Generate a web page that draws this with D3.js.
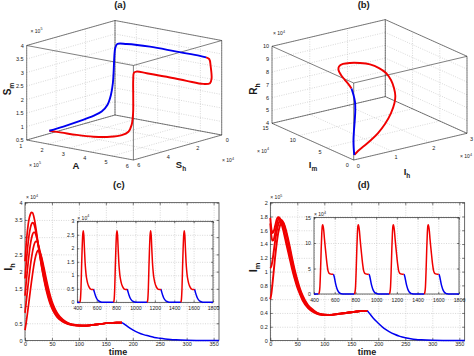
<!DOCTYPE html>
<html><head><meta charset="utf-8">
<script src="https://cdn.jsdelivr.net/npm/d3@7/dist/d3.min.js"></script>
<style>
html,body{margin:0;padding:0;background:#fff;}
svg{display:block;}
text{font-family:"Liberation Sans",Arial,Helvetica,sans-serif;fill:#1a1a1a;}
</style></head><body>
<svg id="chart" width="474" height="356" viewBox="0 0 474 356"></svg>
<script>
// ================= DATA =================
// Panel (a): points [A (x10^5), S_h (x10^4), S_m (x10^5)]
const aTicksA = [1,2,3,4,5,6];
const aTicksSh = [0,2,4,6];
const aTicksSm = [0.5,1,1.5,2,2.5,3,3.5,4];
const aBlue = [[1.58,5.30,0.82],[1.94,4.87,0.96],[2.37,4.36,1.16],[2.71,3.95,1.33],[2.92,3.69,1.48],
  [3.07,3.52,1.72],[3.16,3.41,2.09],[3.21,3.35,2.52],[3.23,3.32,3.01],[3.25,3.31,3.50],[3.27,3.28,3.81],
  [3.32,3.21,3.97],[3.56,2.92,3.96],[4.16,2.21,3.84],[4.85,1.39,3.63],[5.44,0.67,3.45],[5.60,0.48,3.39]];
const aRed = [[5.60,0.48,3.39],[5.68,0.38,3.32],[5.72,0.34,3.04],[5.74,0.31,2.61],[5.70,0.36,2.43],
  [5.53,0.57,2.41],[5.10,1.08,2.54],[4.59,1.69,2.71],[4.08,2.31,2.86],[3.82,2.62,2.93],[3.75,2.70,2.89],
  [3.73,2.72,2.62],[3.73,2.72,2.00],[3.73,2.73,1.39],[3.69,2.77,0.96],[3.61,2.87,0.71],[3.44,3.08,0.59],
  [3.14,3.44,0.54],[2.71,3.95,0.56],[2.28,4.46,0.64],[1.90,4.92,0.74],[1.58,5.30,0.82]];

// Panel (b): points [I_h (x10^4), I_m (x10^4), R_h (x10^4)]
const bTicksIm = [0,5,10,15];
const bTicksIh = [0,1,2,3];
const bTicksRh = [4,5,6,7,8,9,10];
const bRed = [[0.02,0.03,4.37],[0.20,0.60,4.45],[0.50,1.58,4.44],[0.90,3.06,4.35],[1.30,4.55,4.33],
  [1.80,6.74,4.27],[2.30,9.10,4.33],[2.60,10.54,4.63],[2.70,11.08,5.00],[2.65,10.98,5.68],[2.50,10.49,6.50],
  [2.20,9.32,7.48],[2.00,9.22,8.02],[1.80,9.49,8.39],[1.60,9.94,8.55],[1.40,10.39,8.61],[1.20,10.28,8.69],
  [1.00,9.63,8.76],[0.80,8.34,8.87],[0.60,6.49,8.97],[0.40,4.37,9.12],[0.25,2.60,9.18],[0.12,1.24,9.25]];
const bBlue = [[0.12,1.24,9.25],[0.08,0.59,8.90],[0.05,0.11,8.47],[0.045,0.02,7.86],[0.04,0.08,7.07],
  [0.03,0.15,6.29],[0.02,0.18,5.51],[0.02,0.14,4.89],[0.02,0.03,4.37]];

// Panels (c),(d): time series
const timeTicks = [0,50,100,150,200,250,300,350];
const timeRed = [0,2,4,6,8,10,12,14,16,18,20,22,24,26,28,30,35,40,45,50,55,60,70,80,90,100,110,120,130,140,150,160,170,180];
const timeBlue = [180,185,190,200,210,220,230,240,250,260,270,280,300,320,340,360];

const cTicksY = [0,0.5,1,1.5,2,2.5,3,3.5,4];
const cRed1 = [2.30,2.75,3.10,3.38,3.56,3.67,3.72,3.71,3.62,3.47,3.28,3.07,2.85,2.63,2.42,2.22,1.78,1.42,1.14,0.93,0.78,0.67,0.54,0.47,0.44,0.43,0.43,0.44,0.46,0.48,0.50,0.51,0.52,0.52];
const cRed2 = [1.80,2.20,2.56,2.86,3.10,3.27,3.38,3.42,3.40,3.31,3.17,3.00,2.81,2.61,2.42,2.24,1.83,1.48,1.20,0.98,0.82,0.70,0.56,0.48,0.45,0.43,0.43,0.44,0.46,0.48,0.50,0.51,0.52,0.52];
const cRed3 = [1.30,1.65,1.98,2.29,2.56,2.79,2.96,3.08,3.14,3.14,3.08,2.97,2.83,2.66,2.49,2.32,1.91,1.55,1.26,1.03,0.86,0.73,0.57,0.49,0.45,0.43,0.43,0.44,0.46,0.48,0.50,0.51,0.52,0.52];
const cRed4 = [0.80,1.08,1.37,1.65,1.92,2.17,2.39,2.58,2.73,2.83,2.88,2.87,2.81,2.71,2.58,2.44,2.03,1.64,1.33,1.08,0.90,0.76,0.59,0.50,0.46,0.44,0.43,0.44,0.46,0.48,0.50,0.51,0.52,0.52];
const cRed5 = [0.30,0.50,0.72,0.96,1.21,1.46,1.70,1.93,2.14,2.32,2.46,2.56,2.62,2.61,2.55,2.46,2.13,1.75,1.41,1.14,0.94,0.79,0.61,0.51,0.46,0.44,0.43,0.44,0.46,0.48,0.50,0.51,0.52,0.52];
const cBlue = [0.52,0.47,0.41,0.31,0.23,0.17,0.13,0.09,0.065,0.045,0.03,0.02,0.008,0.003,0.001,0];

const dTicksY = [0,0.2,0.4,0.6,0.8,1,1.2,1.4,1.6,1.8,2];
const dRed1 = [1.78,1.62,1.56,1.58,1.63,1.70,1.76,1.79,1.79,1.76,1.71,1.66,1.60,1.53,1.46,1.39,1.22,1.05,0.90,0.77,0.67,0.58,0.47,0.41,0.38,0.37,0.37,0.38,0.39,0.40,0.41,0.42,0.43,0.43];
const dRed2 = [1.70,1.52,1.45,1.46,1.52,1.60,1.68,1.74,1.77,1.77,1.74,1.70,1.64,1.58,1.51,1.44,1.27,1.09,0.93,0.80,0.69,0.60,0.48,0.42,0.38,0.37,0.37,0.38,0.39,0.40,0.41,0.42,0.43,0.43];
const dRed3 = [1.05,1.08,1.16,1.27,1.39,1.50,1.59,1.66,1.71,1.74,1.75,1.74,1.71,1.66,1.60,1.54,1.36,1.17,1.00,0.85,0.73,0.63,0.50,0.43,0.39,0.37,0.37,0.38,0.39,0.40,0.41,0.42,0.43,0.43];
const dRed4 = [0.60,0.68,0.82,0.98,1.14,1.29,1.42,1.53,1.61,1.67,1.71,1.72,1.71,1.68,1.63,1.57,1.40,1.21,1.03,0.88,0.75,0.65,0.51,0.44,0.39,0.38,0.37,0.38,0.39,0.40,0.41,0.42,0.43,0.43];
const dBlue = [0.43,0.38,0.33,0.25,0.18,0.13,0.09,0.06,0.04,0.025,0.015,0.01,0.004,0.001,0,0];

// Insets: long-run periodic behaviour
const insetTicksX = [400,600,800,1000,1200,1400,1600,1800];
const cInsetTicksY = [0,0.5,1,1.5,2,2.5,3];
const cInsetRedTimes = [
  [426,432,438,444,450,456,462,468,474,480,486,492,498,507,517,527,542,557,567],
  [774,780,786,792,798,804,810,816,822,828,834,840,846,855,865,875,890,905,915],
  [1121,1127,1133,1139,1145,1151,1157,1163,1169,1175,1181,1187,1193,1202,1212,1222,1237,1252,1262],
  [1468,1474,1480,1486,1492,1498,1504,1510,1516,1522,1528,1534,1540,1549,1559,1569,1584,1599,1609]];
const cInsetRedVals = [0,0.1,0.5,1.3,2.0,2.5,2.65,2.45,1.95,1.5,1.2,0.98,0.85,0.7,0.6,0.53,0.48,0.47,0.49];
const cInsetBlueTimes = [
  [400,426],
  [567,572,580,588,597,607,617,630,642,657,672,774],
  [915,920,928,936,945,955,965,978,990,1005,1020,1121],
  [1262,1267,1275,1283,1292,1302,1312,1325,1337,1352,1367,1468],
  [1609,1614,1622,1630,1639,1649,1659,1672,1684,1699,1714,1800]];
const cInsetBlueVals = [[0,0],[0.49,0.43,0.33,0.24,0.16,0.10,0.06,0.03,0.012,0.004,0,0]];

const dInsetTicksY = [0,5,10,15];
const dInsetRedTimes = [
  [444,451,457,463,469,475,480,484,489,495,501,508,515,521,528,534,542,550,564,585],
  [788,795,801,807,813,819,824,828,833,839,845,852,859,865,872,878,886,894,908,929],
  [1126,1133,1139,1145,1151,1157,1162,1166,1171,1177,1183,1190,1197,1203,1210,1216,1224,1232,1246,1267],
  [1463,1470,1476,1482,1488,1494,1499,1503,1508,1514,1520,1527,1534,1540,1547,1553,1561,1569,1583,1604]];
const dInsetRedVals = [0,0.3,1.4,4.5,8.5,11.8,13.3,13.6,13.2,12.3,10.8,9.3,7.9,6.7,5.5,4.7,4.2,4.0,3.9,3.85];
const dInsetBlueTimes = [
  [400,444],
  [585,590,595,601,608,616,624,634,643,654,666,679,693,788],
  [929,934,939,945,952,960,968,978,987,998,1010,1023,1037,1126],
  [1267,1272,1277,1283,1290,1298,1306,1316,1325,1336,1348,1361,1375,1463],
  [1604,1609,1614,1620,1627,1635,1643,1653,1662,1673,1685,1698,1712,1800]];
const dInsetBlueVals = [[0,0],[3.85,3.75,3.4,2.8,2.1,1.45,0.93,0.5,0.27,0.12,0.04,0.01,0,0,0]];

// ================= DRAWING =================
const svg = d3.select("#chart");
const RED = "#f00000", BLUE = "#0000f0", BOX = "#2a2a2a", GRID = "#b0b0b0";
const fmt = d3.format("~g");
const zip = (t, v) => t.map((ti, i) => [ti, v[i]]);

function expLabel(x, y, exp) {
  const t = svg.append("text").attr("x", x).attr("y", y).attr("font-size", 5);
  t.append("tspan").text("× 10");
  t.append("tspan").attr("dy", -2.2).attr("font-size", 3.6).text(exp);
}
function subLabel(x, y, main, sub, size, rotate) {
  const t = svg.append("text").attr("x", x).attr("y", y).attr("font-weight", "bold")
    .attr("font-size", size).attr("text-anchor", "middle");
  if (rotate) t.attr("transform", `rotate(-90,${x},${y})`);
  t.append("tspan").text(main);
  if (sub) t.append("tspan").attr("dy", size * 0.32).attr("font-size", size * 0.68).text(sub);
}
function title(x, y, s) {
  svg.append("text").attr("x", x).attr("y", y).attr("text-anchor", "middle")
    .attr("font-family", "'Liberation Serif','DejaVu Serif',serif").attr("font-weight", "bold")
    .attr("font-size", 9.5).text(s);
}

// ---------- 3D panels ----------
function panel3D(o) {
  const g = svg.append("g");
  const su = d3.scaleLinear().domain(o.uDomain).range([0, 1]);
  const sv = d3.scaleLinear().domain(o.vDomain).range([0, 1]);
  const sw = d3.scaleLinear().domain(o.wDomain).range([0, 1]);
  const P = (a, b, c) => [o.origin[0] + a * o.u[0] + b * o.v[0] + c * o.w[0],
                          o.origin[1] + a * o.u[1] + b * o.v[1] + c * o.w[1]];
  const seg = (p, q, grid) => {
    const A = P(...p), B = P(...q);
    const l = g.append("line").attr("x1", A[0]).attr("y1", A[1]).attr("x2", B[0]).attr("y2", B[1]);
    if (grid) l.attr("stroke", GRID).attr("stroke-width", 0.5).attr("stroke-dasharray", "1,1.4");
    else l.attr("stroke", BOX).attr("stroke-width", 0.6);
  };
  const [a0, b0] = o.back;
  o.vTicks.forEach(t => { const b = sv(t); seg([a0, b, 0], [a0, b, 1], true); seg([0, b, 0], [1, b, 0], true); });
  o.uTicks.forEach(t => { const a = su(t); seg([a, b0, 0], [a, b0, 1], true); seg([a, 0, 0], [a, 1, 0], true); });
  o.wTicks.forEach(t => { const c = sw(t); seg([a0, 0, c], [a0, 1, c], true); seg([0, b0, c], [1, b0, c], true); });
  [0, 1].forEach(i => [0, 1].forEach(j => {
    seg([i, j, 0], [i, j, 1]); seg([i, 0, j], [i, 1, j]); seg([0, i, j], [1, i, j]);
  }));
  // tick labels
  o.uTicks.forEach(t => { const p = P(su(t), o.uLabB, 0);
    g.append("text").attr("x", p[0] + o.uOff[0]).attr("y", p[1] + o.uOff[1]).attr("text-anchor", "middle")
      .attr("dominant-baseline", "central").attr("font-size", 5.5).text(fmt(t)); });
  o.vTicks.forEach(t => { const p = P(o.vLabA, sv(t), 0);
    g.append("text").attr("x", p[0] + o.vOff[0]).attr("y", p[1] + o.vOff[1]).attr("text-anchor", "middle")
      .attr("dominant-baseline", "central").attr("font-size", 5.5).text(fmt(t)); });
  o.wTicks.forEach(t => { const p = P(o.wEdge[0], o.wEdge[1], sw(t));
    g.append("text").attr("x", p[0] - 3).attr("y", p[1]).attr("text-anchor", "end")
      .attr("dominant-baseline", "central").attr("font-size", 5.5).text(fmt(t)); });
  const line = d3.line()
    .x(d => P(su(o.fu(d)), sv(o.fv(d)), sw(o.fw(d)))[0])
    .y(d => P(su(o.fu(d)), sv(o.fv(d)), sw(o.fw(d)))[1])
    .curve(d3.curveCatmullRom.alpha(0.5));
  g.append("path").datum(o.red).attr("d", line).attr("fill", "none").attr("stroke", RED).attr("stroke-width", 1.9);
  g.append("path").datum(o.blue).attr("d", line).attr("fill", "none").attr("stroke", BLUE).attr("stroke-width", 1.9);
}

panel3D({
  origin: [26.7, 140], u: [106.7, 20], v: [88.3, -25], w: [0, -94.5],
  uDomain: [1, 6], vDomain: [6, 0], wDomain: [0.5, 4],
  uTicks: aTicksA, vTicks: aTicksSh, wTicks: aTicksSm,
  back: [0, 1], uLabB: 0, vLabA: 1, wEdge: [0, 0],
  uOff: [-6, 6], vOff: [5.5, 5],
  fu: d => d[0], fv: d => d[1], fw: d => d[2],
  red: aRed, blue: aBlue
});
panel3D({
  origin: [353.7, 160], u: [-81.7, -36.7], v: [113.3, -26.7], w: [0, -77],
  uDomain: [0, 15], vDomain: [0, 3], wDomain: [4, 10],
  uTicks: bTicksIm, vTicks: bTicksIh, wTicks: bTicksRh,
  back: [1, 1], uLabB: 0, vLabA: 0, wEdge: [1, 0],
  uOff: [-6.5, 4.5], vOff: [4.5, 5.5],
  fu: d => d[1], fv: d => d[0], fw: d => d[2],
  red: bRed, blue: bBlue
});

title(120, 8, "(a)");
title(363.7, 8, "(b)");
subLabel(11, 89, "S", "m", 10, true);
subLabel(76, 168.5, "A", null, 9.5, false);
subLabel(181, 168, "S", "h", 9.5, false);
expLabel(30.5, 32.5, "5");
expLabel(29, 166.5, "5");
expLabel(222, 162, "4");
subLabel(256.5, 89, "R", "h", 10, true);
subLabel(313, 168, "I", "m", 9.5, false);
subLabel(407, 175, "I", "h", 9.5, false);
expLabel(273, 35, "4");
expLabel(257, 152.5, "4");
expLabel(460, 158, "4");

// ---------- 2D panels ----------
function panel2D(o) {
  const g = svg.append("g");
  const x = d3.scaleLinear().domain(o.xDomain).range([o.l, o.r]);
  const y = d3.scaleLinear().domain(o.yDomain).range([o.b, o.t]);
  const w = o.r - o.l, h = o.b - o.t;
  g.append("rect").attr("x", o.l).attr("y", o.t).attr("width", w).attr("height", h).attr("fill", "#fff");
  const gridStyle = s => { s.select(".domain").remove(); s.selectAll("text").remove();
    s.selectAll("line").attr("stroke", GRID).attr("stroke-width", 0.5).attr("stroke-dasharray", "1,1.4"); };
  g.append("g").attr("transform", `translate(0,${o.b})`)
    .call(d3.axisBottom(x).tickValues(o.xTicks).tickSize(-h)).call(gridStyle);
  g.append("g").attr("transform", `translate(${o.l},0)`)
    .call(d3.axisLeft(y).tickValues(o.yTicks).tickSize(-w)).call(gridStyle);
  const axStyle = s => { s.attr("font-family", null).attr("font-size", null);
    s.select(".domain").remove();
    s.selectAll("line").attr("stroke", BOX).attr("stroke-width", 0.6);
    s.selectAll("text").attr("font-size", o.fs).attr("fill", "#1a1a1a"); };
  g.append("g").attr("transform", `translate(0,${o.b})`)
    .call(d3.axisBottom(x).tickValues(o.xTicks).tickSizeInner(-o.tk).tickSizeOuter(0).tickPadding(o.xpad).tickFormat(fmt)).call(axStyle);
  g.append("g").attr("transform", `translate(0,${o.t})`)
    .call(d3.axisTop(x).tickValues(o.xTicks).tickSizeInner(-o.tk).tickSizeOuter(0).tickFormat(() => "")).call(axStyle);
  g.append("g").attr("transform", `translate(${o.l},0)`)
    .call(d3.axisLeft(y).tickValues(o.yTicks).tickSizeInner(-o.tk).tickSizeOuter(0).tickPadding(o.ypad).tickFormat(fmt)).call(axStyle);
  g.append("g").attr("transform", `translate(${o.r},0)`)
    .call(d3.axisRight(y).tickValues(o.yTicks).tickSizeInner(-o.tk).tickSizeOuter(0).tickFormat(() => "")).call(axStyle);
  g.append("rect").attr("x", o.l).attr("y", o.t).attr("width", w).attr("height", h)
    .attr("fill", "none").attr("stroke", BOX).attr("stroke-width", 0.7);
  const line = d3.line().x(d => x(d[0])).y(d => y(d[1])).curve(d3.curveMonotoneX);
  const draw = (data, color, sw) => g.append("path").datum(data).attr("d", line)
    .attr("fill", "none").attr("stroke", color).attr("stroke-width", sw).attr("stroke-linejoin", "round");
  return { g, x, y, draw };
}

// (c)
const pc = panel2D({ l: 25, r: 219, t: 202.7, b: 340.5, xDomain: [0, 360], yDomain: [0, 4],
  xTicks: timeTicks, yTicks: cTicksY, tk: 2.5, fs: 5.5, xpad: 2, ypad: 2.5 });
[cRed5, cRed4, cRed3, cRed2, cRed1].forEach(v => pc.draw(zip(timeRed, v), RED, 1.7));
pc.draw(zip(timeBlue, cBlue), BLUE, 1.5);
const pci = panel2D({ l: 77.3, r: 213, t: 221.3, b: 302.3, xDomain: [400, 1800], yDomain: [0, 3],
  xTicks: insetTicksX, yTicks: cInsetTicksY, tk: 2, fs: 5.2, xpad: 4.2, ypad: 3 });
cInsetBlueTimes.forEach((t, i) => pci.draw(zip(t, cInsetBlueVals[i === 0 ? 0 : 1]), BLUE, 1.5));
cInsetRedTimes.forEach(t => pci.draw(zip(t, cInsetRedVals), RED, 1.5));

// (d)
const pd = panel2D({ l: 270.3, r: 464.7, t: 202.7, b: 340.5, xDomain: [0, 360], yDomain: [0, 2],
  xTicks: timeTicks, yTicks: dTicksY, tk: 2.5, fs: 5.5, xpad: 2, ypad: 2.5 });
[dRed4, dRed3, dRed2, dRed1].forEach(v => pd.draw(zip(timeRed, v), RED, 1.9));
pd.draw(zip(timeBlue, dBlue), BLUE, 1.5);
const pdi = panel2D({ l: 314, r: 459, t: 217.5, b: 294, xDomain: [400, 1800], yDomain: [0, 15],
  xTicks: insetTicksX, yTicks: dInsetTicksY, tk: 2, fs: 5.2, xpad: 4.2, ypad: 3 });
dInsetBlueTimes.forEach((t, i) => pdi.draw(zip(t, dInsetBlueVals[i === 0 ? 0 : 1]), BLUE, 1.5));
dInsetRedTimes.forEach(t => pdi.draw(zip(t, dInsetRedVals), RED, 1.5));

title(118.8, 187.5, "(c)");
title(363.7, 187.5, "(d)");
subLabel(11.5, 267, "I", "h", 11, true);
subLabel(256.5, 267.5, "I", "m", 11, true);
svg.append("text").attr("x", 118).attr("y", 354.5).attr("text-anchor", "middle").attr("font-weight", "bold").attr("font-size", 9).text("time");
svg.append("text").attr("x", 367).attr("y", 354.5).attr("text-anchor", "middle").attr("font-weight", "bold").attr("font-size", 9).text("time");
expLabel(26, 199, "4");
expLabel(270.3, 199, "5");
expLabel(77.3, 219.5, "4");
expLabel(314, 215.8, "4");
</script></body></html>
